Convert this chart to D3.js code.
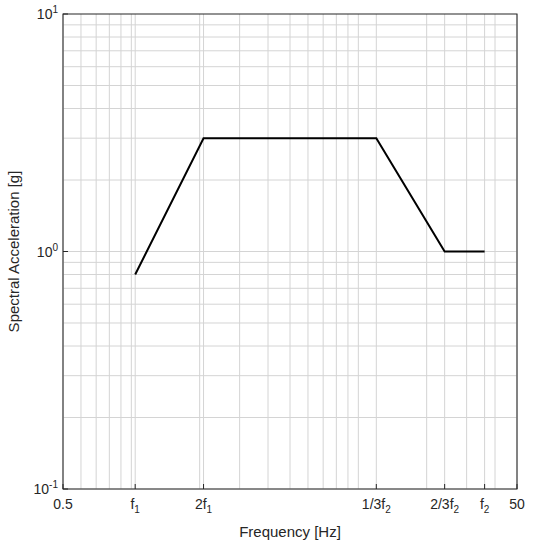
<!DOCTYPE html>
<html>
<head>
<meta charset="utf-8">
<script src="https://d3js.org/d3.v7.min.js"></script>
<style>
body { margin: 0; background: #fff; font-family: Arial, "Liberation Sans", sans-serif; }
</style>
</head>
<body>
<div id="chart"></div>
<script>
// data
var f1 = 1.04, f2 = 36;
var freqs = [f1, 2 * f1, f2 / 3, 2 * f2 / 3, f2];
var accel = [0.8, 3, 3, 1, 1];
var xTickVals = [0.5, f1, 2 * f1, f2 / 3, 2 * f2 / 3, f2, 50];
var xTickLabels = [["0.5", ""], ["f", "1"], ["2f", "1"], ["1/3f", "2"], ["2/3f", "2"], ["f", "2"], ["50", ""]];
var yTickVals = [0.1, 1, 10];
var yTickExp = ["-1", "0", "1"];

var margin = {top: 14, right: 21, bottom: 61, left: 63},
    width = 538 - margin.left - margin.right,
    height = 550 - margin.top - margin.bottom;

var svg = d3.select('#chart').append('svg')
    .attr('width', 538).attr('height', 550)
  .append('g')
    .attr('transform', 'translate(' + margin.left + ',' + margin.top + ')');

var x = d3.scaleLog().domain([0.5, 50]).range([0, width]);
var y = d3.scaleLog().domain([0.1, 10]).range([height, 0]);

// grid lines
var xGrid = [];
[0.1, 1, 10].forEach(function(d){ for (var i = 1; i < 10; i++) { var v = d * i; if (v >= 0.5 && v <= 50) xGrid.push(v); } });
xGrid = xGrid.concat(xTickVals);
var yGrid = [];
[0.1, 1].forEach(function(d){ for (var i = 1; i < 10; i++) yGrid.push(d * i); });

svg.selectAll('.vg').data(xGrid).enter().append('line')
  .attr('x1', d => x(d)).attr('x2', d => x(d)).attr('y1', 0).attr('y2', height)
  .attr('stroke', '#d4d4d4').attr('stroke-width', 1);
svg.selectAll('.hg').data(yGrid).enter().append('line')
  .attr('y1', d => y(d)).attr('y2', d => y(d)).attr('x1', 0).attr('x2', width)
  .attr('stroke', '#d4d4d4').attr('stroke-width', 1);

// box
svg.append('rect').attr('width', width).attr('height', height)
  .attr('fill', 'none').attr('stroke', '#262626').attr('stroke-width', 1);

// ticks
svg.selectAll('.xt').data(xTickVals).enter().append('line')
  .attr('x1', d => x(d)).attr('x2', d => x(d)).attr('y1', height).attr('y2', height - 5)
  .attr('stroke', '#262626');
svg.selectAll('.yt').data(yTickVals).enter().append('line')
  .attr('y1', d => y(d)).attr('y2', d => y(d)).attr('x1', 0).attr('x2', 5)
  .attr('stroke', '#262626');

// x labels
var xl = svg.selectAll('.xl').data(xTickVals).enter().append('text')
  .attr('x', d => x(d)).attr('y', height + 20)
  .attr('text-anchor', 'middle').attr('font-size', 14).attr('fill', '#262626');
xl.each(function(d, i) {
  var t = d3.select(this);
  t.append('tspan').text(xTickLabels[i][0]);
  if (xTickLabels[i][1]) t.append('tspan').attr('dy', 4).attr('font-size', 10).text(xTickLabels[i][1]);
});

// y labels
var yl = svg.selectAll('.yl').data(yTickVals).enter().append('text')
  .attr('x', -5).attr('y', d => y(d) + 5)
  .attr('text-anchor', 'end').attr('font-size', 14).attr('fill', '#262626');
yl.each(function(d, i) {
  var t = d3.select(this);
  t.append('tspan').text('10');
  t.append('tspan').attr('dy', -6).attr('font-size', 10).text(yTickExp[i]);
});

// axis titles
svg.append('text').attr('x', width / 2).attr('y', height + 48)
  .attr('text-anchor', 'middle').attr('font-size', 15).attr('fill', '#262626')
  .text('Frequency [Hz]');
svg.append('text').attr('transform', 'translate(-44,' + (height / 2) + ') rotate(-90)')
  .attr('text-anchor', 'middle').attr('font-size', 15).attr('fill', '#262626')
  .text('Spectral Acceleration [g]');

// line
var line = d3.line().x((d, i) => x(freqs[i])).y(d => y(d));
svg.append('path').datum(accel).attr('d', line)
  .attr('fill', 'none').attr('stroke', '#000').attr('stroke-width', 2);
</script>
</body>
</html>
